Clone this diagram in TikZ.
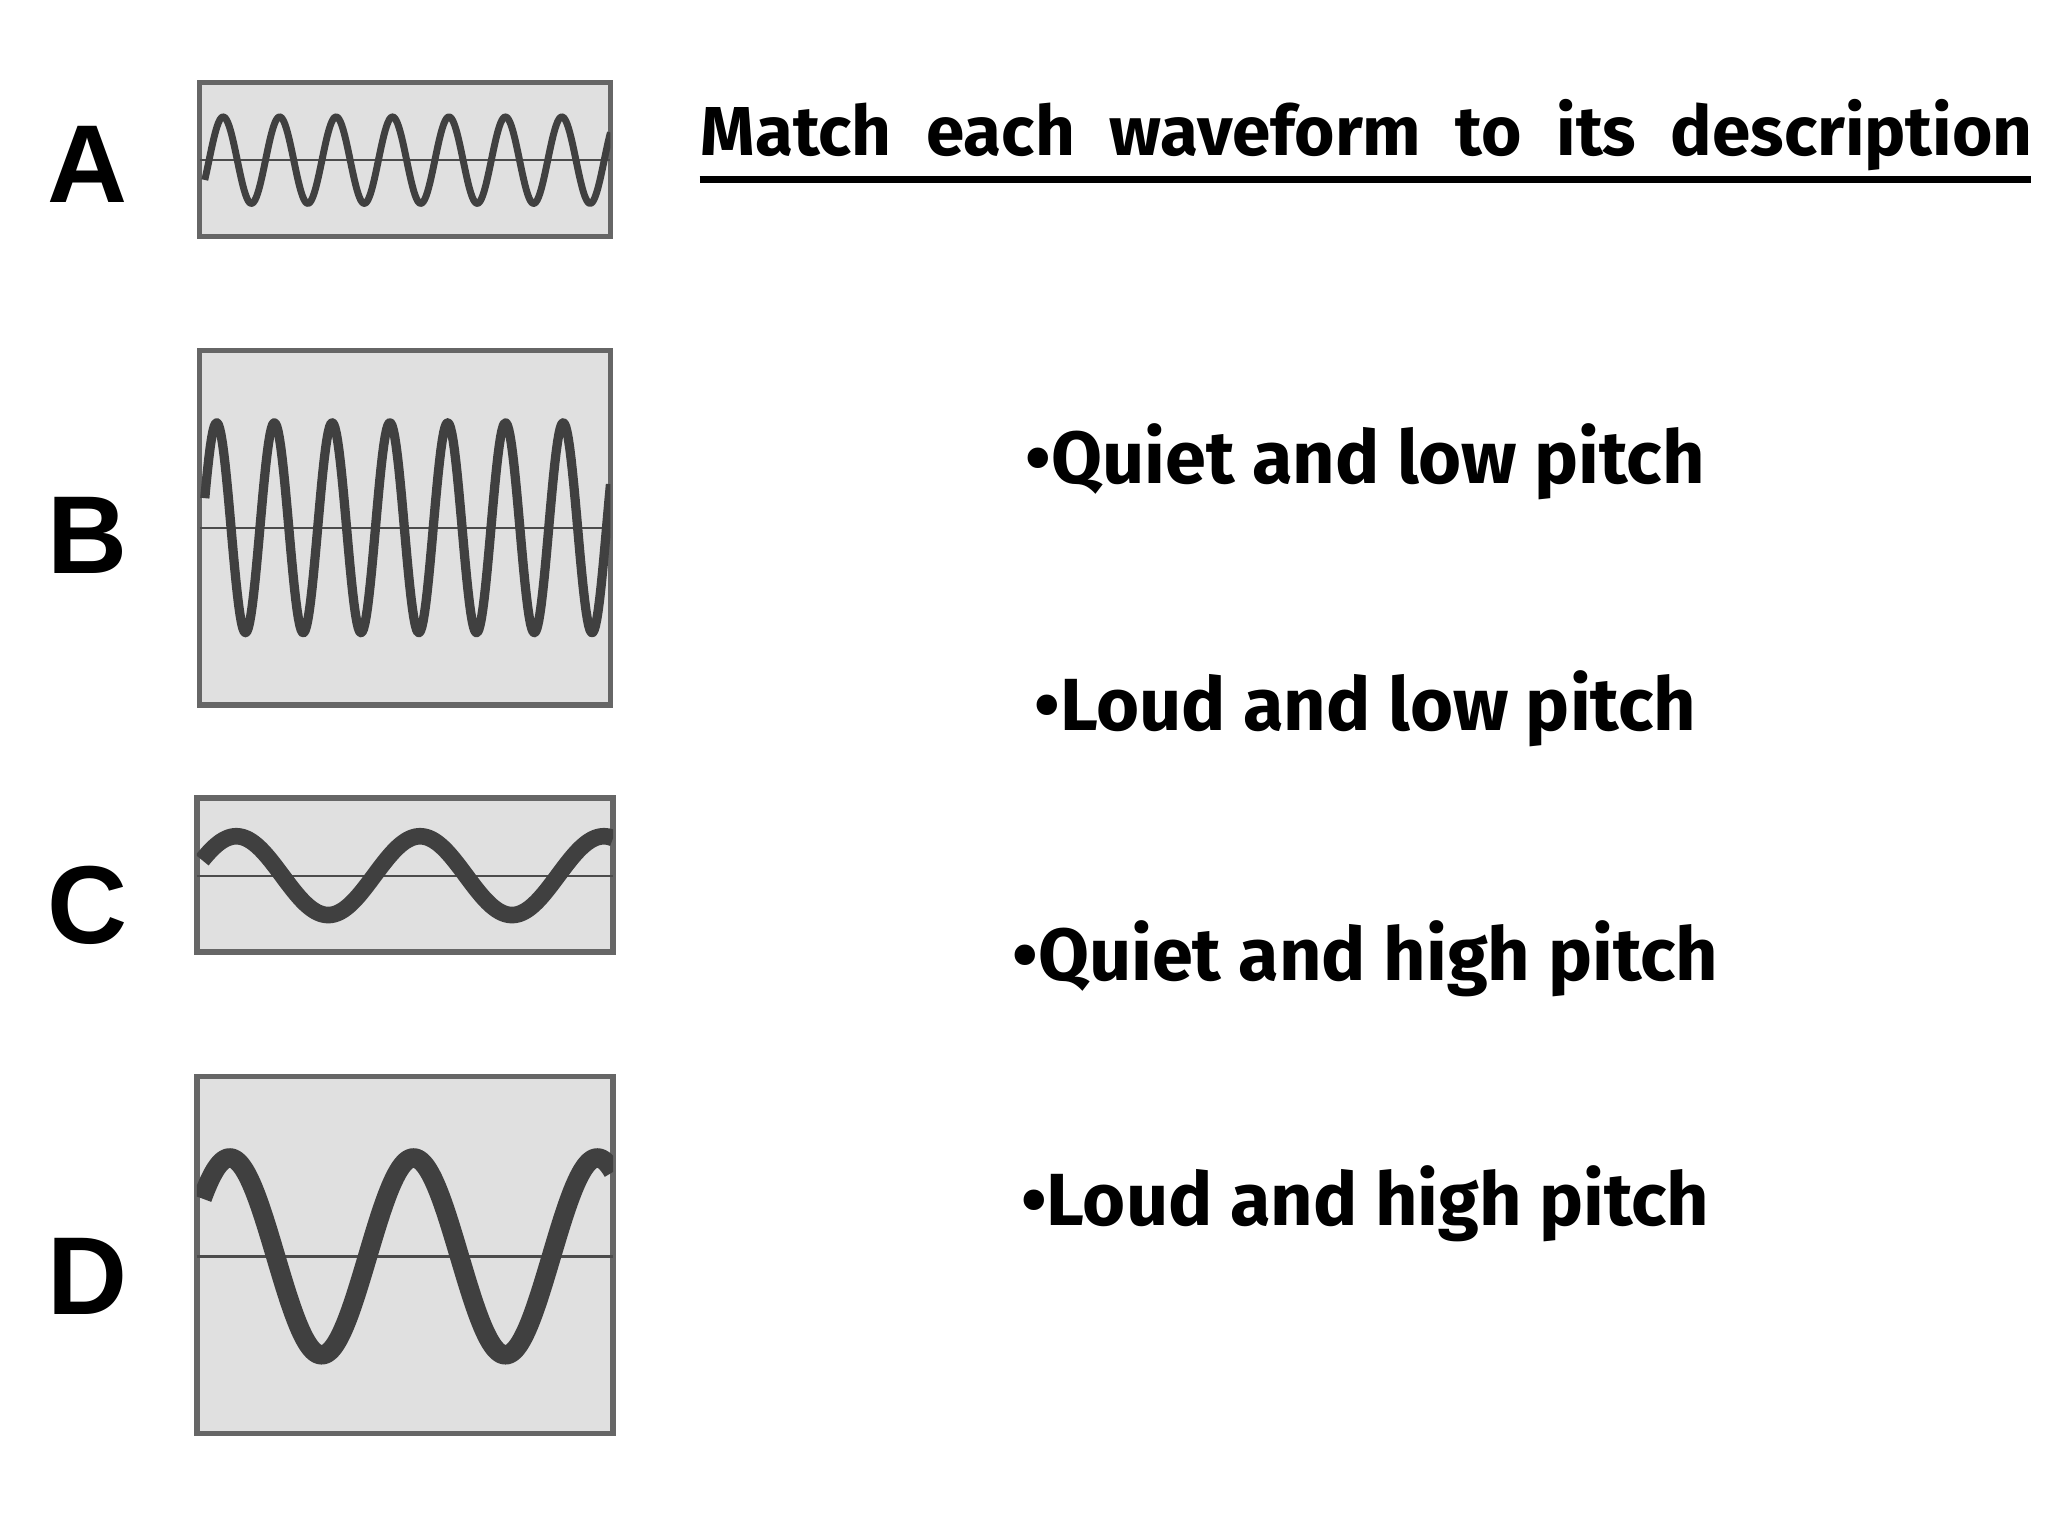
\documentclass[tikz,border=0pt]{standalone}
\usepackage{fontspec}
\setmainfont{Liberation Sans}
\newfontfamily\comic{Fira Sans}
\begin{document}
\begin{tikzpicture}[x=0.01cm,y=-0.01cm,
  scope box/.style={draw=gray!80!black,fill=black!12,line width=1.2},
  wave/.style={draw=black!75,line join=round},
  letter/.style={font=\fontsize{24}{28}\selectfont\bfseries},
  item/.style={font=\comic\fontsize{16}{19}\selectfont\bfseries}]
\useasboundingbox[fill=white] (0,0) rectangle (1560,1170);
\foreach \n/\xa/\ya/\xb/\yb/\m/\a/\p/\k/\w in {
  A/152/63/465/180/122/33/43/170/1.5,
  B/152/267/465/537/402/80/44/165/2.0,
  C/150/608/467/725/667/30/140/180/3.6,
  D/150/820/467/1092/957/75/140/175/4.2}{
  \path[scope box] (\xa,\ya) rectangle (\xb,\yb);
  \draw[black!70,line width=0.5] (\xa,\m) -- (\xb,\m);
  \begin{scope}
    \clip (\xa,\ya) rectangle (\xb,\yb);
    \draw[wave,line width=\w] plot[domain=\xa+4:\xb,samples=300]
      (\x,{\m-\a*cos((\x-\k)/\p*360)});
  \end{scope}
}
\node[letter] (la) at (67,125) {A};
\node[letter] (lb) at (67,408) {B};
\node[letter] (lc) at (67,690) {C};
\node[letter] (ld) at (67,972) {D};
\node[item,anchor=west,inner sep=0pt] (title) at (533,103) {\resizebox{10.14cm}{!}{\spaceskip=0.5em\relax Match each waveform to its description}};
\draw[line width=1.6] (title.south west) ++(0,6) -- ++(1014,0);
\node[item] (i1) at (1040,352) {•Quiet and low pitch};
\node[item] (i2) at (1040,540) {•Loud and low pitch};
\node[item] (i3) at (1040,730) {•Quiet and high pitch};
\node[item] (i4) at (1040,917) {•Loud and high pitch};
\end{tikzpicture}
\end{document}
